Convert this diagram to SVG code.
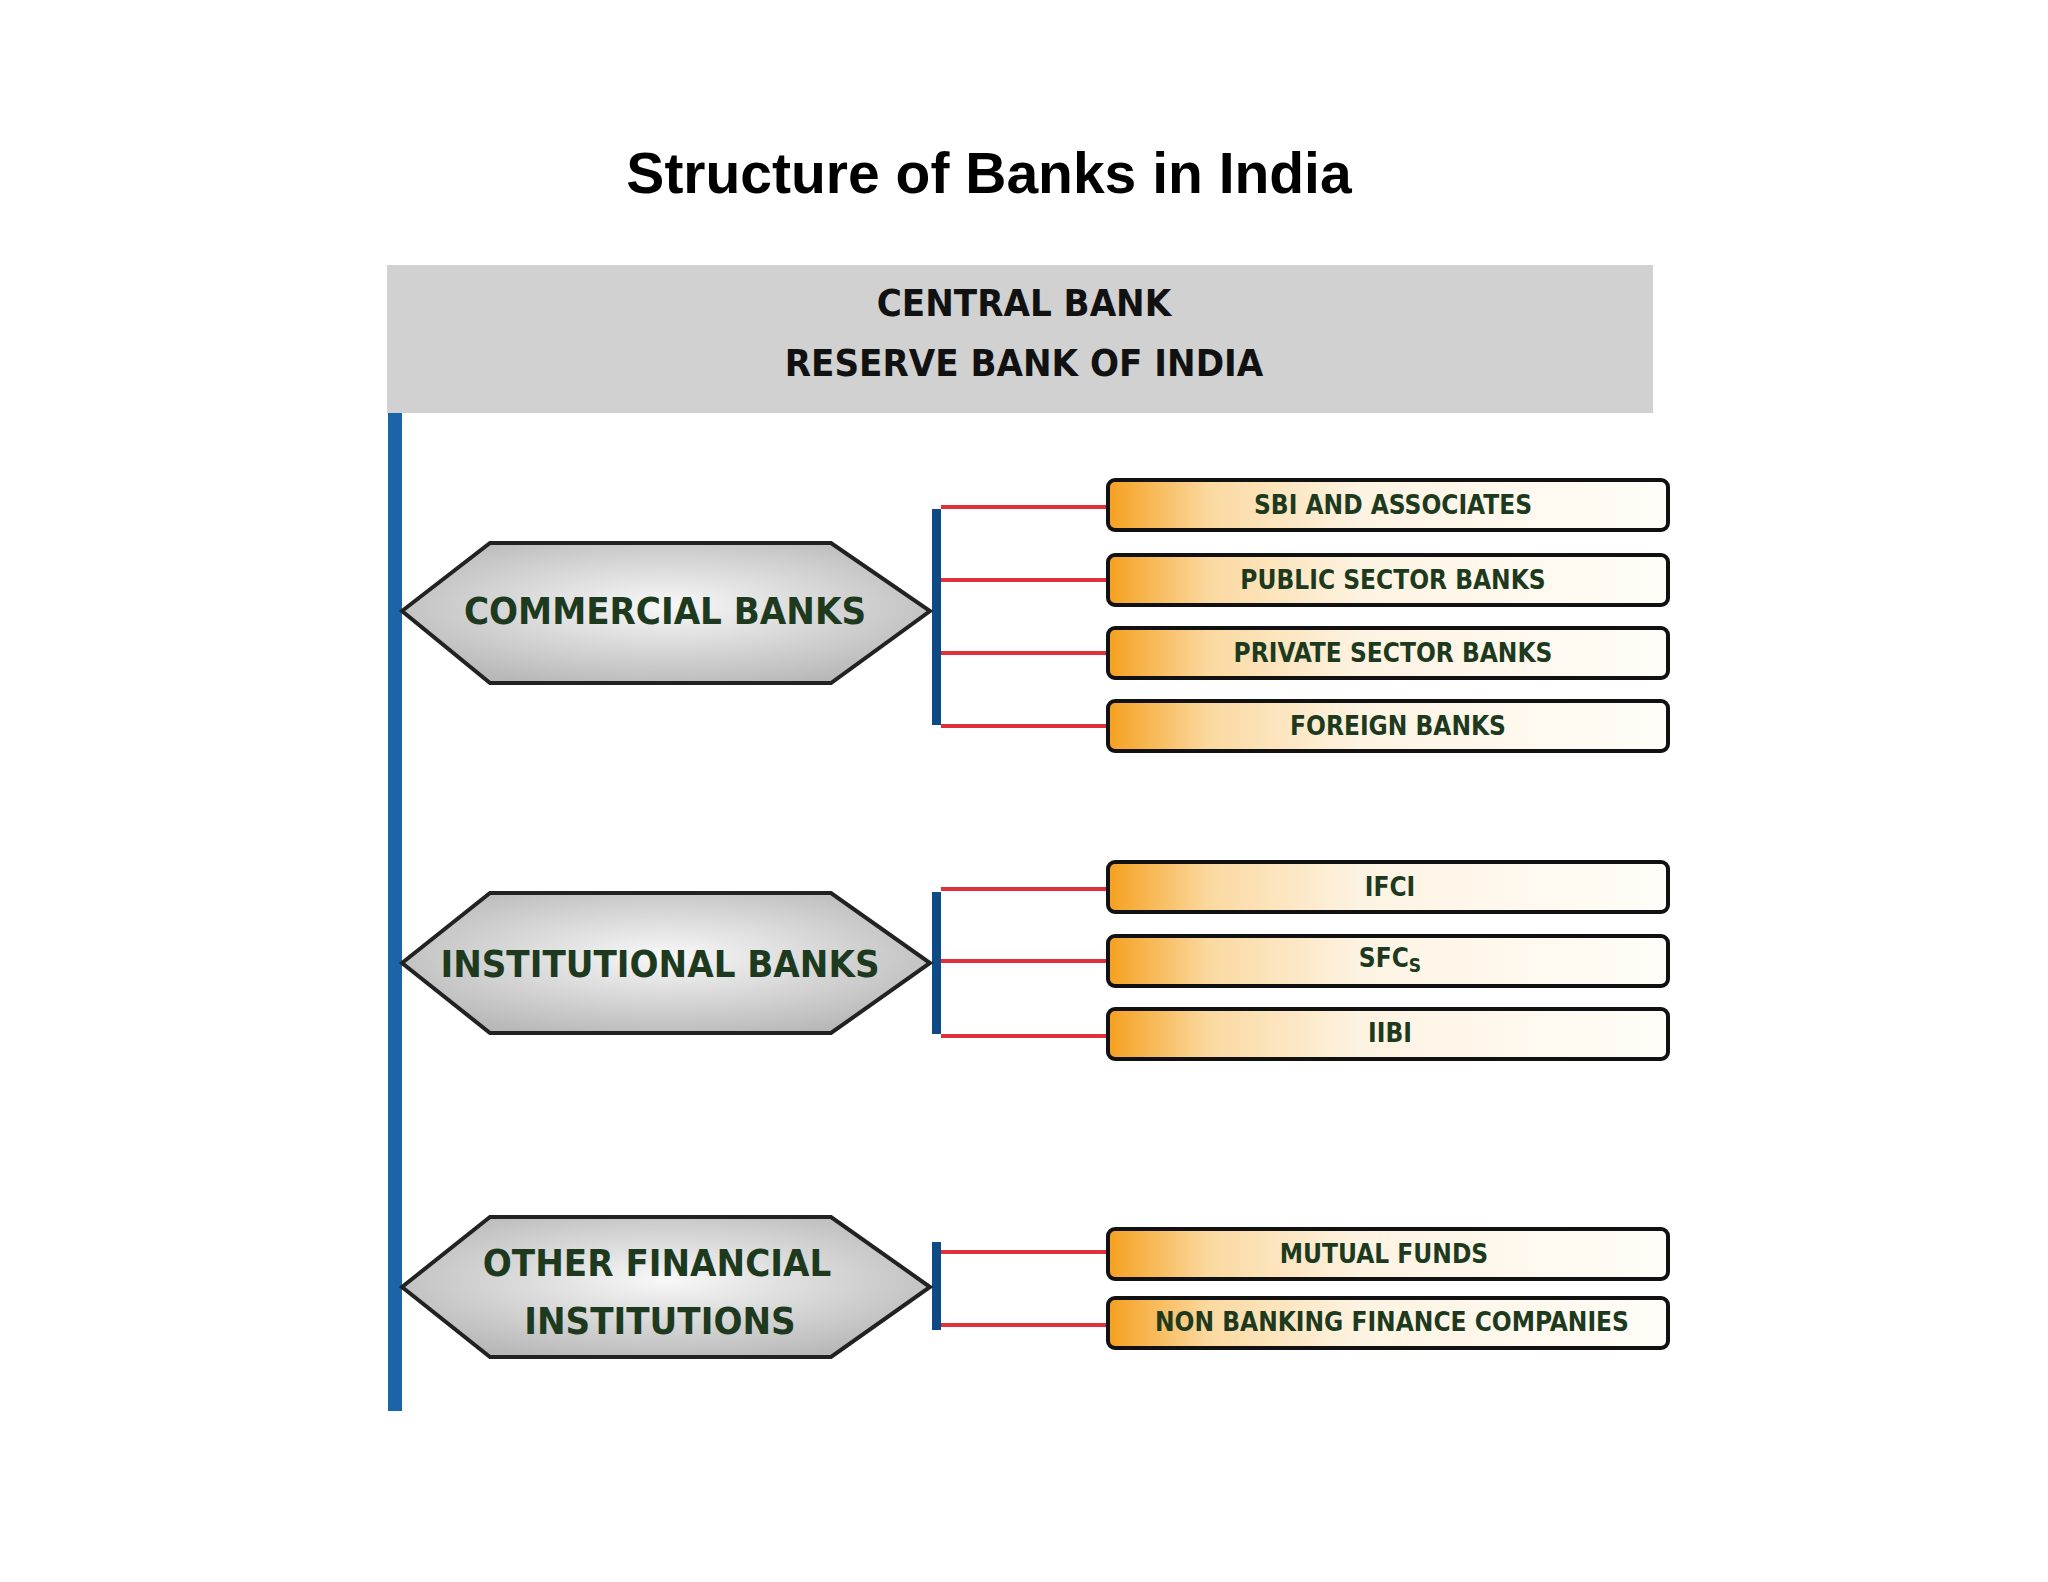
<svg xmlns="http://www.w3.org/2000/svg" width="2048" height="1582" viewBox="0 0 2048 1582">
<defs>
<linearGradient id="og" x1="0" y1="0" x2="1" y2="0">
<stop offset="0" stop-color="#f5a01e"/><stop offset="0.18" stop-color="#fbd9a0"/><stop offset="0.45" stop-color="#fdf3e2"/><stop offset="1" stop-color="#fffdf8"/>
</linearGradient>
<radialGradient id="hg" cx="0.5" cy="0.45" r="0.6">
<stop offset="0" stop-color="#f8f8f8"/><stop offset="1" stop-color="#b8b8b8"/>
</radialGradient>
<style>
.box{fill:url(#og);stroke:#111;stroke-width:4}
.hex{fill:url(#hg);stroke:#222;stroke-width:4}
.bt{font-family:"DejaVu Sans Condensed","DejaVu Sans",sans-serif;font-weight:bold;font-size:26px;fill:#1e3a1e;text-anchor:middle}
.ht{font-family:"DejaVu Sans Condensed","DejaVu Sans",sans-serif;font-weight:bold;font-size:38px;fill:#1e3a1e;text-anchor:middle}
.red{stroke:#e0303a;stroke-width:4;fill:none}
.blue{fill:#0d4a86}
</style>
</defs>
<rect width="2048" height="1582" fill="#fff"/>
<text x="989" y="193" font-family="Liberation Sans, Arial, sans-serif" font-weight="bold" font-size="57" text-anchor="middle" fill="#000">Structure of Banks in India</text>
<g id="central">
<rect x="387" y="265" width="1266" height="148" fill="#d1d1d1"/>
<text x="1024" y="316" class="ht" fill="#111" style="fill:#111">CENTRAL BANK</text>
<text x="1024" y="376" class="ht" style="fill:#111">RESERVE BANK OF INDIA</text>
</g>
<g id="connectors">
<rect x="388" y="413" width="14" height="998" fill="#1a65a8"/>
<rect x="932" y="509" width="9" height="216" class="blue"/>
<rect x="932" y="892" width="9" height="142" class="blue"/>
<rect x="932" y="1242" width="9" height="88" class="blue"/>
<path class="red" d="M941 507H1107M941 580H1107M941 653H1107M941 726H1107M941 889H1107M941 961H1107M941 1036H1107M941 1252H1107M941 1325H1107"/>
</g>
<g id="commercial"><polygon class="hex" points="402,611 490,543 831,543 930,611 831,683 490,683"/><text x="665" y="624" class="ht">COMMERCIAL BANKS</text></g>
<g id="institutional"><polygon class="hex" points="402,963 490,893 831,893 930,963 831,1033 490,1033"/><text x="660" y="977" class="ht">INSTITUTIONAL BANKS</text></g>
<g id="other"><polygon class="hex" points="402,1287 490,1217 831,1217 930,1287 831,1357 490,1357"/><text x="657" y="1276" class="ht">OTHER FINANCIAL</text><text x="660" y="1334" class="ht">INSTITUTIONS</text></g>
<g id="sbi"><rect class="box" x="1108" y="480" width="560" height="50" rx="7"/><text x="1393" y="514" class="bt">SBI AND ASSOCIATES</text></g>
<g id="public"><rect class="box" x="1108" y="555" width="560" height="50" rx="7"/><text x="1393" y="589" class="bt">PUBLIC SECTOR BANKS</text></g>
<g id="private"><rect class="box" x="1108" y="628" width="560" height="50" rx="7"/><text x="1393" y="662" class="bt">PRIVATE SECTOR BANKS</text></g>
<g id="foreign"><rect class="box" x="1108" y="701" width="560" height="50" rx="7"/><text x="1398" y="735" class="bt">FOREIGN BANKS</text></g>
<g id="ifci"><rect class="box" x="1108" y="862" width="560" height="50" rx="7"/><text x="1390" y="896" class="bt">IFCI</text></g>
<g id="sfcs"><rect class="box" x="1108" y="936" width="560" height="50" rx="7"/><text x="1390" y="967" class="bt">SFC<tspan font-size="19" dy="5">S</tspan></text></g>
<g id="iibi"><rect class="box" x="1108" y="1009" width="560" height="50" rx="7"/><text x="1390" y="1042" class="bt">IIBI</text></g>
<g id="mutual"><rect class="box" x="1108" y="1229" width="560" height="50" rx="7"/><text x="1384" y="1263" class="bt">MUTUAL FUNDS</text></g>
<g id="nbfc"><rect class="box" x="1108" y="1298" width="560" height="50" rx="7"/><text x="1392" y="1331" class="bt">NON BANKING FINANCE COMPANIES</text></g>
</svg>
